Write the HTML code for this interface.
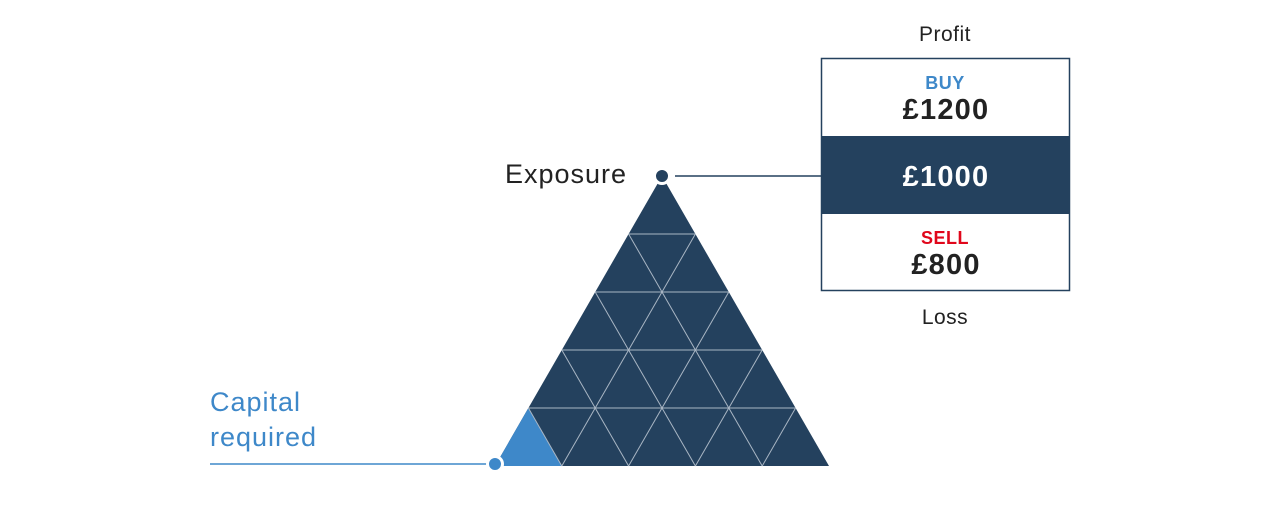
<!DOCTYPE html>
<html><head><style>
body{margin:0;width:1280px;height:526px;background:#fff;overflow:hidden;font-family:"Liberation Sans",sans-serif;}
</style></head><body>
<svg width="1280" height="526" xmlns="http://www.w3.org/2000/svg" style="position:absolute;left:0;top:0">
<polygon points="662,176 495,466 829,466" fill="#24415e"/>
<polygon points="495,466 528.4,408 561.8,466" fill="#3e88c9"/>
<g stroke="#a9b6c4" stroke-width="1" fill="none">
<line x1="628.6" y1="234" x2="695.4" y2="234"/>
<line x1="595.2" y1="292" x2="728.8" y2="292"/>
<line x1="561.8" y1="350" x2="762.2" y2="350"/>
<line x1="528.4" y1="408" x2="795.6" y2="408"/>
<line x1="528.4" y1="408" x2="561.8" y2="466"/>
<line x1="561.8" y1="350" x2="628.6" y2="466"/>
<line x1="595.2" y1="292" x2="695.4" y2="466"/>
<line x1="628.6" y1="234" x2="762.2" y2="466"/>
<line x1="795.6" y1="408" x2="762.2" y2="466"/>
<line x1="762.2" y1="350" x2="695.4" y2="466"/>
<line x1="728.8" y1="292" x2="628.6" y2="466"/>
<line x1="695.4" y1="234" x2="561.8" y2="466"/>
</g>
<line x1="675" y1="176" x2="822" y2="176" stroke="#24415e" stroke-width="1.5"/>
<circle cx="662" cy="176" r="7.5" fill="#24415e" stroke="#fff" stroke-width="3"/>
<line x1="210" y1="464" x2="488" y2="464" stroke="#3e88c9" stroke-width="1.5"/>
<circle cx="495" cy="464" r="7.5" fill="#3e88c9" stroke="#fff" stroke-width="3"/>
<rect x="821.5" y="58.5" width="248" height="232" fill="#fff" stroke="#24415e" stroke-width="1.5"/>
<rect x="821" y="136" width="249" height="78" fill="#24415e"/>
<g text-anchor="middle" font-family="Liberation Sans, sans-serif">
<text x="945" y="41" font-size="21" letter-spacing="0.5" fill="#222">Profit</text>
<text x="945" y="324" font-size="21" letter-spacing="0.5" fill="#222">Loss</text>
<text x="945" y="89" font-size="18" font-weight="bold" letter-spacing="0.5" fill="#3e88c9">BUY</text>
<text x="946" y="119" font-size="29" font-weight="bold" letter-spacing="1.2" fill="#222">£1200</text>
<text x="946" y="186" font-size="29" font-weight="bold" letter-spacing="1.2" fill="#fff">£1000</text>
<text x="945" y="244" font-size="18" font-weight="bold" letter-spacing="0.5" fill="#e0071b">SELL</text>
<text x="946" y="274" font-size="29" font-weight="bold" letter-spacing="1.2" fill="#222">£800</text>
</g>
<text x="505" y="183" font-size="27" letter-spacing="1" fill="#222">Exposure</text>
<text x="210" y="411" font-size="27" letter-spacing="1" fill="#3e88c9">Capital</text>
<text x="210" y="446" font-size="27" letter-spacing="1" fill="#3e88c9">required</text>
</svg>
</body></html>
